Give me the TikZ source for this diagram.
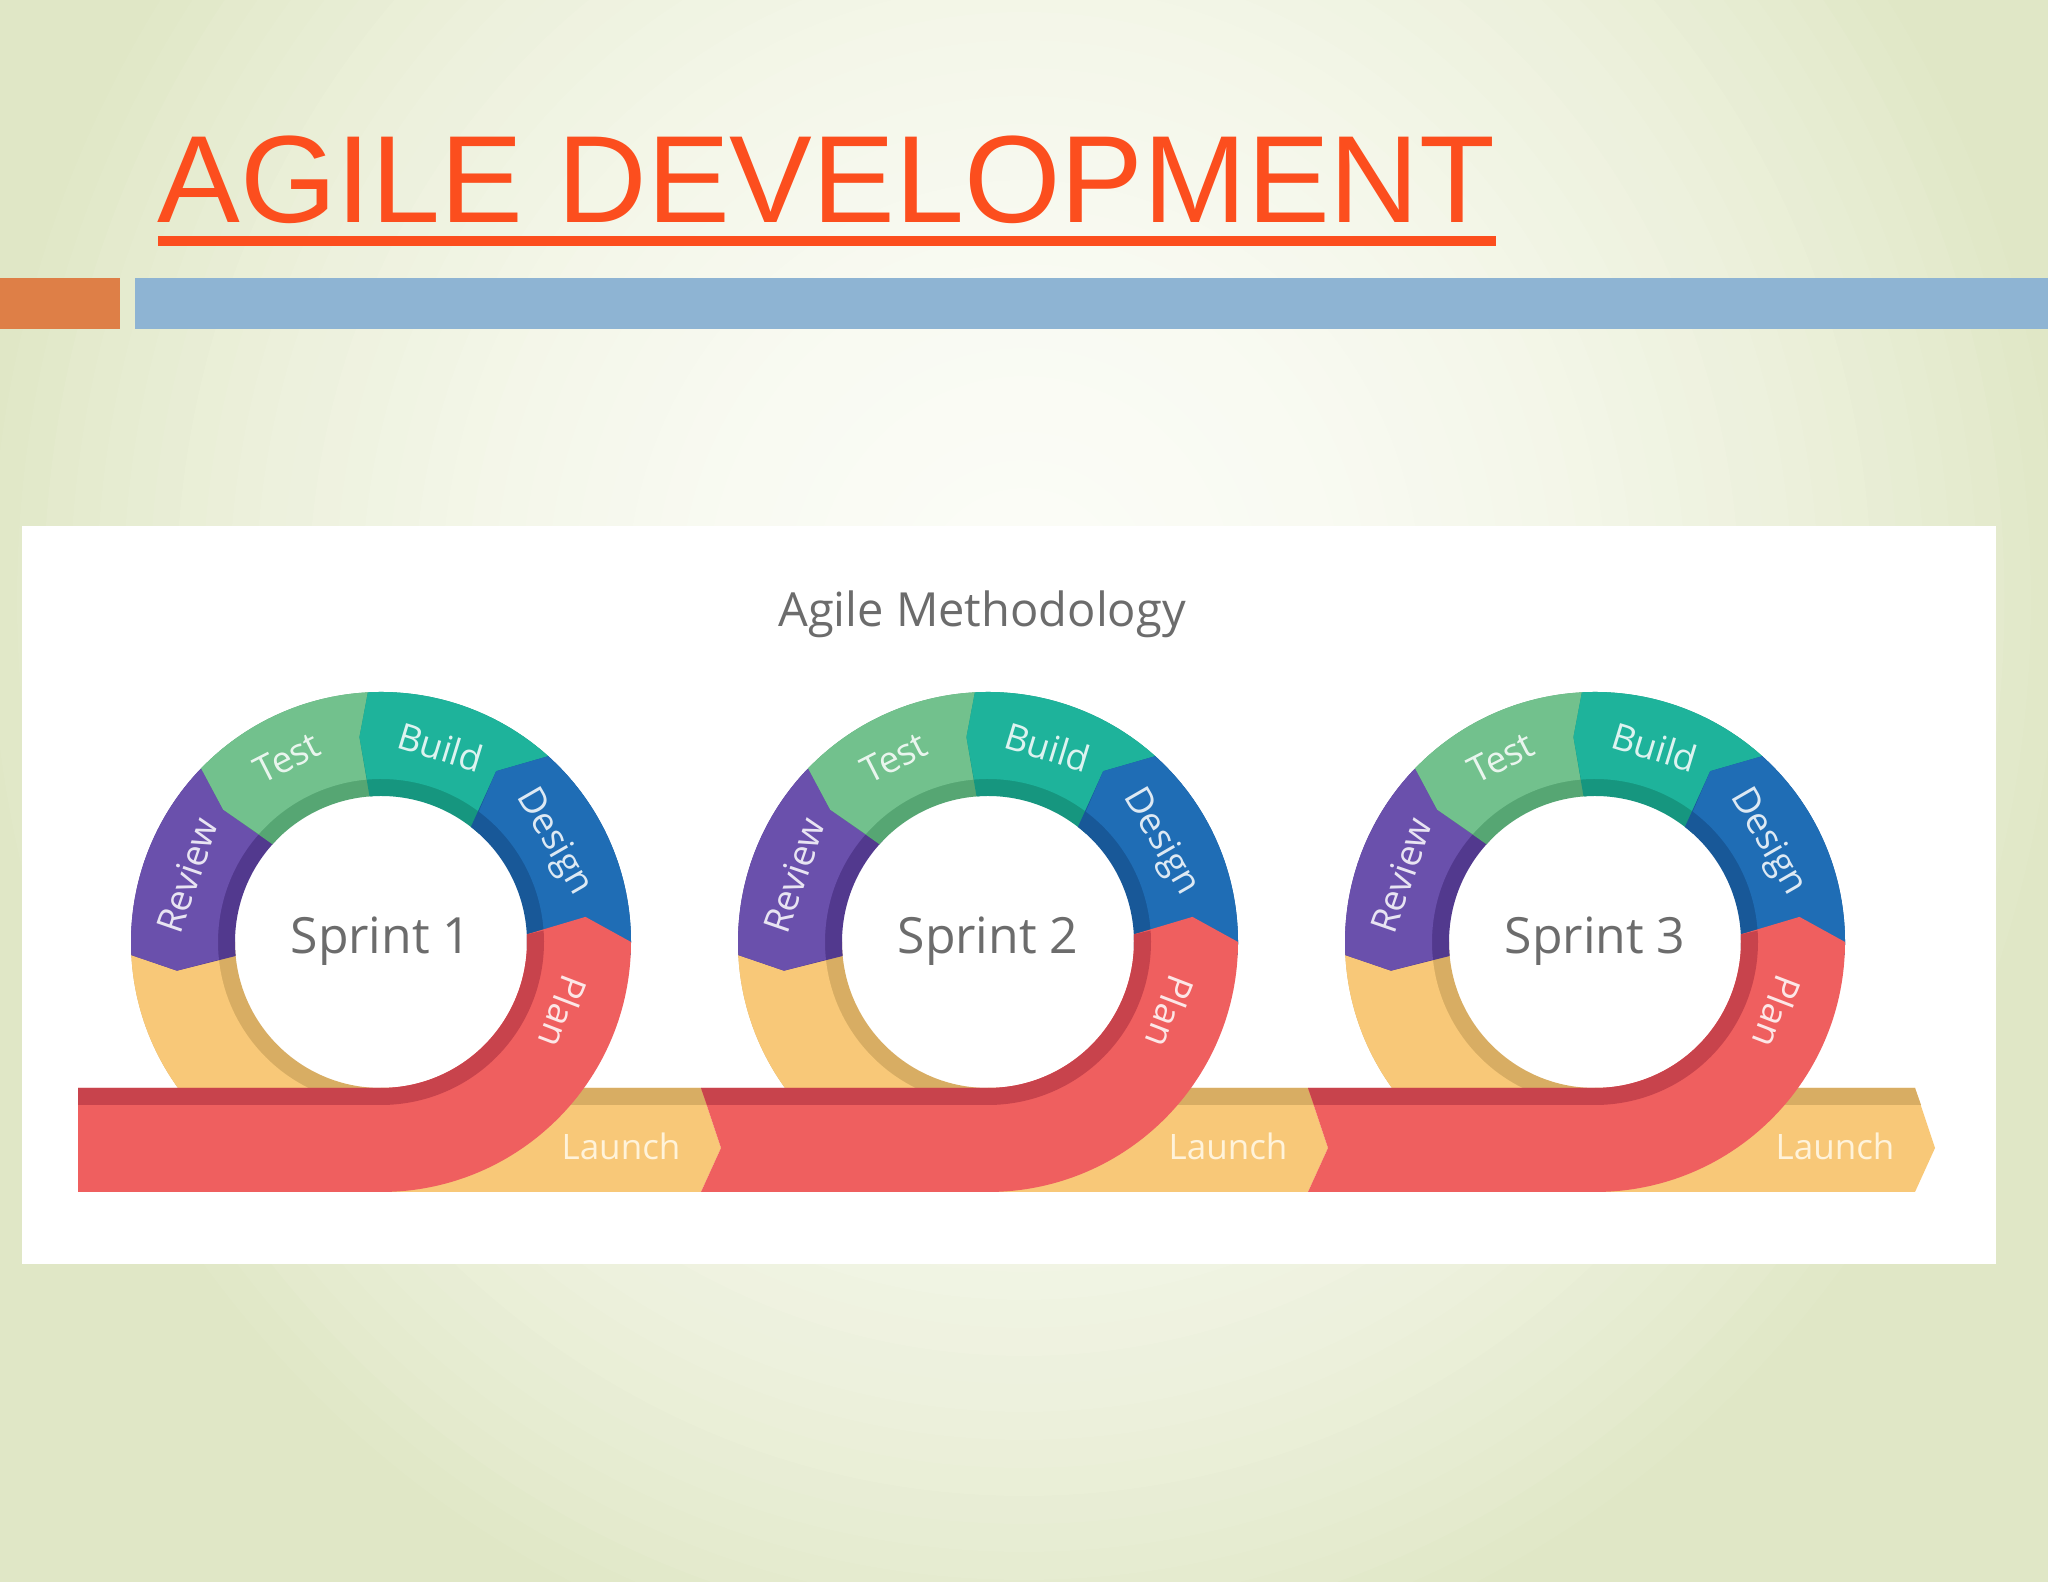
\documentclass[tikz,border=0pt]{standalone}
\usepackage{fontspec}
\setmainfont{Liberation Sans}
\newfontfamily\osans{Open Sans}
\definecolor{bgbase}{HTML}{E0E7C6}
\definecolor{bglight}{HTML}{FBFCF6}
\definecolor{titlec}{HTML}{FC4E1E}
\definecolor{orbar}{HTML}{DE7F47}
\definecolor{blbar}{HTML}{8EB4D3}
\definecolor{purm}{HTML}{6A50AC}
\definecolor{purd}{HTML}{52398E}
\definecolor{grnm}{HTML}{72C18D}
\definecolor{grnd}{HTML}{56A673}
\definecolor{tealm}{HTML}{1EB39B}
\definecolor{teald}{HTML}{16967F}
\definecolor{blum}{HTML}{1F6DB5}
\definecolor{blud}{HTML}{185898}
\definecolor{redm}{HTML}{EF5F5F}
\definecolor{redd}{HTML}{C8434C}
\definecolor{yelm}{HTML}{F8C878}
\definecolor{yeld}{HTML}{D8AD63}
\definecolor{txtg}{HTML}{6C6C6C}
\definecolor{lchc}{HTML}{FFF3DA}
\tikzset{
  lbl/.style={text=white, text opacity=0.85, inner sep=0, font=\osans\fontsize{10.4pt}{12pt}\selectfont},
  launchlbl/.style={text=lchc, anchor=base, inner sep=0, font=\osans\fontsize{9.96pt}{12pt}\selectfont},
  sprintlbl/.style={text=txtg, anchor=base, inner sep=0, font=\osans\fontsize{14.2pt}{17pt}\selectfont},
}
% #1 start angle, #2 end angle, #3 tip offset, #4 dark, #5 main
\newcommand{\ringseg}[5]{%
  \fill[#4] (#1:250) arc[start angle=#1,end angle=#2,radius=250] -- ({#2+#3}:206) -- ({#2+#3*0.5}:146) arc[start angle={#2+#3*0.5},end angle=#1,radius=146] -- cycle;
  \fill[#5] (#1:250) arc[start angle=#1,end angle=#2,radius=250] -- ({#2+#3}:206) -- ({#2+#3*0.64}:163) arc[start angle={#2+#3*0.64},end angle=#1,radius=163] -- cycle;
}
% #1 cx, #2 number, #3 left corner x, #4 notch x, #5 stripe left x
\newcommand{\sprint}[5]{%
\begin{scope}[shift={(#1,640)}]
  \ringseg{180}{270}{0}{yeld}{yelm}
  \fill[yelm] (0,-146) -- (320,-146) -- (340,-206) -- (320,-250) -- (0,-250) -- cycle;
  \fill[yeld] (0,-146) -- (320,-146) -- (326,-163) -- (0,-163) -- cycle;
  \ringseg{136}{183}{5}{purd}{purm}
  \ringseg{93}{136}{4}{grnd}{grnm}
  \ringseg{48}{93}{3}{teald}{tealm}
  \ringseg{-3}{48}{8}{blud}{blum}
  \fill[redm] (#3,-146) -- (0,-146) arc[start angle=-90,end angle=3,radius=146] -- (7:206) -- (0:250) arc[start angle=0,end angle=-90,radius=250] -- (#3,-250) -- (#4,-206) -- cycle;
  \fill[redd] (#3,-146) -- (0,-146) arc[start angle=-90,end angle=3,radius=146] -- (4:163) arc[start angle=4,end angle=-90,radius=163] -- (#5,-163) -- cycle;
  \node[lbl, rotate=71] (s#2rev) at (161:205) {Review};
  \node[lbl, rotate=27] (s#2test) at (117:207) {Test};
  \node[lbl, rotate=-17] (s#2build) at (73:204) {Build};
  \node[lbl, rotate=-60] (s#2des) at (30:199) {Design};
  \node[lbl, rotate=-111] (s#2plan) at (-21:195) {Plan};
  \node[launchlbl] (s#2launch) at (240,-218) {Launch};
  \node[sprintlbl] (s#2name) at (0,-12) {Sprint #2};
\end{scope}}
\begin{document}
\begin{tikzpicture}[x=0.01cm,y=0.01cm]
\useasboundingbox (0,0) rectangle (2048,1582);
\fill[bgbase] (0,0) rectangle (2048,1582);
\begin{scope}
\clip (0,0) rectangle (2048,1582);
\foreach \i in {0,...,39}{
  \pgfmathsetmacro{\ff}{1-\i/40}
  \pgfmathtruncatemacro{\pp}{100*(1-\ff*\ff)}
  \fill[bglight!\pp!bgbase] (1024,982) ellipse[x radius={1060*\ff}, y radius={1120*\ff}];
}
\end{scope}
\fill[orbar] (0,1253) rectangle (120,1304);
\fill[blbar] (135,1253) rectangle (2048,1304);
\node[anchor=base west, inner sep=0, text=titlec, font=\fontsize{35.28pt}{40pt}\selectfont] (title) at (157,1359) {AGILE DEVELOPMENT};
\fill[titlec] (158,1336) rectangle (1496,1346);
\fill[white] (22,318) rectangle (1996,1056);
\node[anchor=base, inner sep=0, text=txtg, font=\osans\fontsize{13.37pt}{16pt}\selectfont] (method) at (982,955) {Agile Methodology};
\sprint{381}{1}{-303}{-303}{-303}
\sprint{988}{2}{-287}{-267}{-281}
\sprint{1595}{3}{-287}{-267}{-281}
\end{tikzpicture}
\end{document}
